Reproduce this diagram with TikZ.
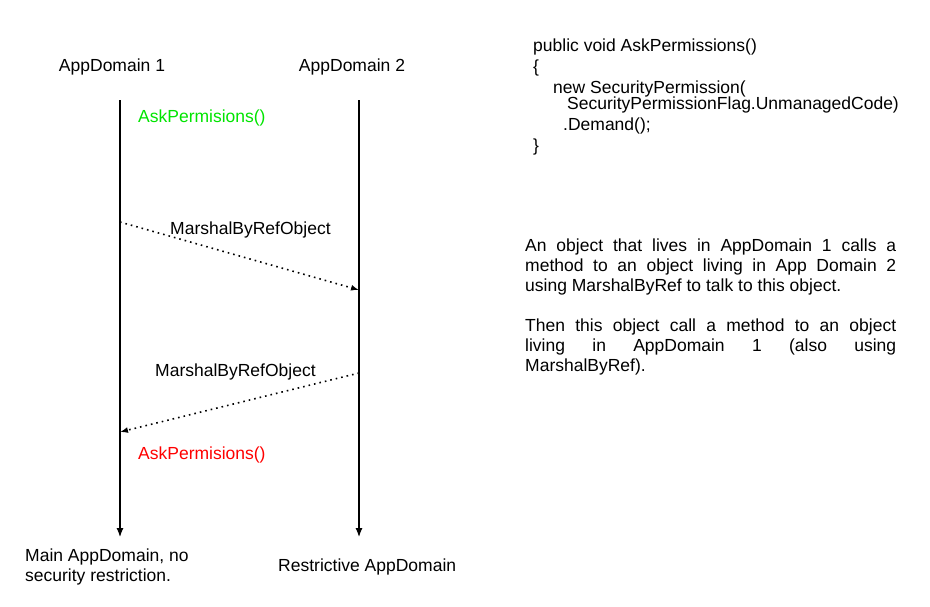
\documentclass[tikz,border=0pt]{standalone}
\usepackage{fontspec}
\setmainfont{Liberation Sans}
\usetikzlibrary{arrows.meta}
\begin{document}
\begin{tikzpicture}[x=1pt,y=-1pt,
  txt/.style={font=\fontsize{17.5}{20}\selectfont,inner sep=0pt},
  life/.style={line width=1.2pt,-{Latex[length=9pt,width=7pt]}},
  msg/.style={line width=1.6pt,dash pattern=on 1.6pt off 4pt,-{Latex[length=8pt,width=6pt]}}]
\useasboundingbox[fill=white] (0,0) rectangle (930,606);
\node[txt] (h1) at (112,67) {AppDomain 1};
\node[txt] (h2) at (352,67) {AppDomain 2};
\coordinate (a1) at (120,100); \coordinate (a2) at (120,537);
\coordinate (b1) at (359,100); \coordinate (b2) at (359,537);
\draw[life] (a1) -- (a2);
\draw[life] (b1) -- (b2);
\node[txt,anchor=west,text=green!90!black] (g) at (138,118) {AskPermisions()};
\coordinate (m1s) at (120,222); \coordinate (m1e) at (359,290);
\draw[msg] (m1s) -- (m1e);
\node[txt,anchor=west] (l1) at (170,230) {MarshalByRefObject};
\coordinate (m2s) at (359,373); \coordinate (m2e) at (120,432);
\draw[msg] (m2s) -- (m2e);
\node[txt,anchor=west] (l2) at (155,372) {MarshalByRefObject};
\node[txt,anchor=west,text=red] (r) at (138,455) {AskPermisions()};
\node[txt,anchor=west,align=left] (f1) at (25,567) {Main AppDomain, no\\security restriction.};
\node[txt,anchor=west] (f2) at (278,567) {Restrictive AppDomain};
\node[txt,anchor=west] (c1) at (533,47) {public void AskPermissions()};
\node[txt,anchor=west] (c2) at (533,68) {\{};
\node[txt,anchor=west] (c3) at (553,89) {new SecurityPermission(};
\node[txt,anchor=west] (c4) at (567,105) {SecurityPermissionFlag.UnmanagedCode)};
\node[txt,anchor=west] (c5) at (563,126) {.Demand();};
\node[txt,anchor=west] (c6) at (533,147) {\}};
\node[txt,anchor=north west,text width=371pt,align=justify] (p) at (525,239)
{\hyphenpenalty=10000 An object that lives in AppDomain 1 calls a\linebreak method to an object living in App Domain 2\linebreak using MarshalByRef to talk to this object.\par\vspace{20pt}Then this object call a method to an object\linebreak living in AppDomain 1 (also using\linebreak MarshalByRef).};
\end{tikzpicture}
\end{document}
